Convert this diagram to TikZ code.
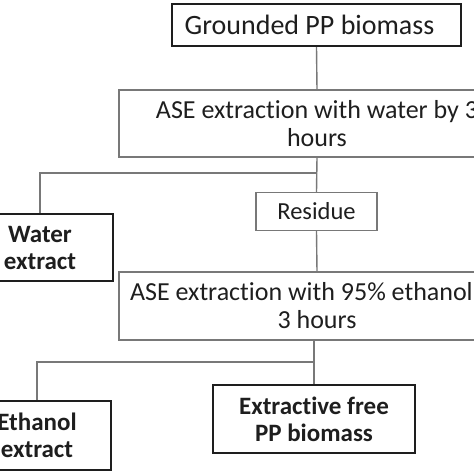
\documentclass[tikz,border=0pt]{standalone}
\usepackage{fontspec}
\setmainfont{Carlito}[Ligatures=NoCommon]
\usepackage{xcolor}
\definecolor{edge}{RGB}{120, 120, 120}
\definecolor{ink}{RGB}{30, 30, 30}

\tikzset{
  thinbox/.style={draw=edge, line width=1.4pt, text=ink, align=center, inner sep=0pt,
    font=\fontsize{26}{28}\selectfont},
  thickbox/.style={draw=ink, line width=2.4pt, text=ink, align=center, inner sep=0pt,
    font=\fontsize{25}{27}\selectfont},
  boldbox/.style={thickbox, font=\fontsize{25}{27}\selectfont\bfseries},
  link/.style={draw=edge, line width=1.4pt}
}

\begin{document}
\begin{tikzpicture}[x=1pt, y=-1pt]
      \useasboundingbox (0, 0) rectangle (474, 474);
      \clip (0, 0) rectangle (474, 474);
      % boxes
      \node[thickbox, font=\fontsize{28}{30}\selectfont, minimum width=289, minimum height=42] (biomass) at (316.5, 25) {Grounded PP biomass\hspace*{0.5em}};
      \node[thinbox, minimum width=396, minimum height=67] (waterase) at (317, 123.5) {ASE extraction with water by 3\\hours};
      \node[thinbox, font=\fontsize{24.5}{28}\selectfont, minimum width=121, minimum height=38] (residue) at (316.5, 211.5) {Residue};
      \node[boldbox, minimum width=146, minimum height=67] (waterext) at (40, 247.5) {Water\\extract};
      \node[thinbox, minimum width=396, minimum height=68] (ethanolase) at (317, 306) {ASE extraction with 95\% ethanol\hspace*{1.2em}\\3 hours};
      \node[boldbox, minimum width=202, minimum height=68] (freebio) at (314, 419) {Extractive free\\PP biomass};
      \node[boldbox, minimum width=148, minimum height=69] (ethanolext) at (37, 435.5) {Ethanol\\extract};
      % connectors
      \coordinate (split1) at (317, 173);
      \coordinate (split2) at (314, 362);
      \draw[link] (biomass.south) -- (waterase.north);
      \draw[link] (waterase.south) -- (residue.north);
      \draw[link] (split1) -| (waterext.north);
      \draw[link] (residue.south) -- (ethanolase.north);
      \draw[link] (freebio.north |- ethanolase.south) -- (freebio.north);
      \draw[link] (split2) -| (ethanolext.north);
    \end{tikzpicture}
\end{document}
